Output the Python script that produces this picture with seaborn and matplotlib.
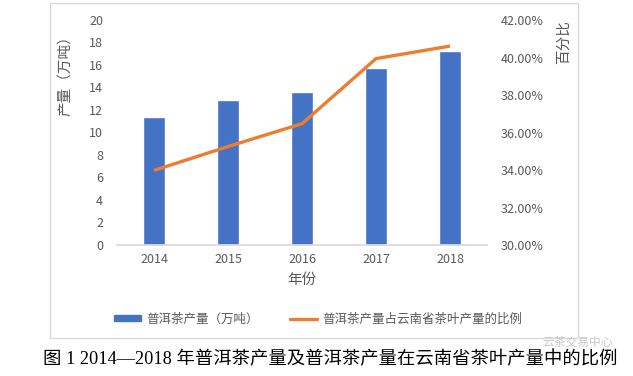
import pandas as pd
import matplotlib.pyplot as plt
import seaborn as sns
from matplotlib.patches import Rectangle, Patch
from matplotlib.lines import Line2D
from matplotlib.ticker import FuncFormatter

sns.set_theme(style="white")
plt.rcParams['font.family'] = ['Noto Sans CJK SC', 'DejaVu Sans']
plt.rcParams['axes.unicode_minus'] = False

# data
years = ['2014', '2015', '2016', '2017', '2018']
output_wt = [11.4, 12.9, 13.6, 15.7, 17.2]          # 万吨
share_pct = [33.98, 35.25, 36.47, 39.94, 40.61]     # %

bar_label = '普洱茶产量（万吨）'
line_label = '普洱茶产量占云南省茶叶产量的比例'
caption = '图 1 2014—2018 年普洱茶产量及普洱茶产量在云南省茶叶产量中的比例'

df = pd.DataFrame({'year': years, 'output': output_wt, 'share': share_pct})

blue = '#4472C4'
orange = '#ED7D31'
grey = '#595959'

fig = plt.figure(figsize=(6.33, 3.76), dpi=100)
ax = fig.add_axes([117/633, 1 - 245/376, 370/633, 225/376])

sns.barplot(data=df, x='year', y='output', color=blue, width=0.31,
            saturation=1, ax=ax)
ax.set_ylim(0, 20)
ax.set_yticks(range(0, 21, 2))
ax.set_xlim(-0.5, 4.5)

ax2 = ax.twinx()
sns.lineplot(data=df, x='year', y='share', color=orange, linewidth=2.4,
             ax=ax2, solid_capstyle='butt')
ax2.set_ylim(30, 42)
ax2.set_yticks([30, 32, 34, 36, 38, 40, 42])
ax2.yaxis.set_major_formatter(FuncFormatter(lambda v, p: f'{v:.2f}%'))

for a in (ax, ax2):
    for s in a.spines.values():
        s.set_visible(False)
    a.tick_params(length=0, colors=grey, labelsize=9)
ax.spines['bottom'].set_visible(True)
ax.spines['bottom'].set_color('#d9d9d9')
ax.tick_params(axis='y', pad=10)
ax.tick_params(axis='x', pad=6)
ax2.tick_params(axis='y', pad=10)

ax.set_xlabel('年份', color=grey, fontsize=10.5, labelpad=5)
ax.set_ylabel('产量（万吨）', color=grey, fontsize=10.5)
ax.yaxis.set_label_coords(-0.122, 0.77)
ax2.set_ylabel('百分比', color=grey, fontsize=10.5, rotation=90)
ax2.yaxis.set_label_coords(1.19, 0.90)

handles = [Patch(color=blue, label=bar_label),
           Line2D([0], [0], color=orange, lw=2.4, label=line_label)]
fig.legend(handles=handles, loc='center', bbox_to_anchor=(318/633, 1 - 319/376),
           ncol=2, frameon=False, fontsize=9, labelcolor=grey,
           handlelength=2.2, handleheight=0.35, columnspacing=2.5, handletextpad=0.4)

# chart frame
fig.patches.append(Rectangle((50/633, 1 - 338/376), 528/633, 335/376,
                             transform=fig.transFigure, fill=False,
                             ec='#d9d9d9', lw=1))

fig.text(330/633, 1 - 359/376, caption, ha='center', va='center',
         fontsize=13.2, color='black',
         family=['Liberation Serif', 'Noto Sans CJK SC'])
fig.text(613/633, 1 - 342/376, '云茶交易中心', ha='right', va='center',
         fontsize=8.5, color='#c8c8c8')

fig.savefig('out.png', dpi=100)
